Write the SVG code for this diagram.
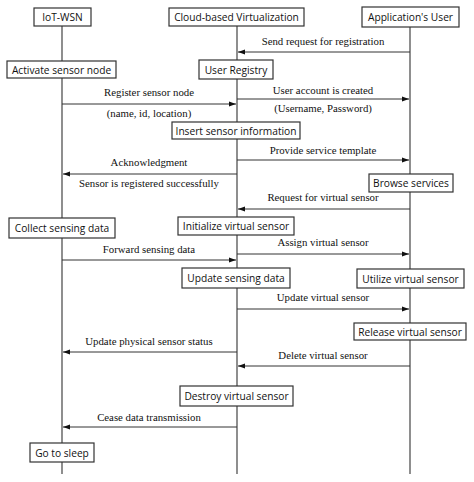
<svg xmlns="http://www.w3.org/2000/svg" width="474" height="482" viewBox="0 0 474 482">
<style>
.box{fill:#fff;stroke:#333;stroke-width:1.2}
.bt{font-family:"Open Sans","DejaVu Sans",sans-serif;font-size:10.2px;fill:#111;text-anchor:middle;dominant-baseline:central}
.lt{font-family:"Liberation Serif","Times New Roman",serif;font-size:10.8px;fill:#111;text-anchor:middle}
.life{stroke:#444;stroke-width:1.2;fill:none}
.msg{stroke:#333;stroke-width:1;fill:none;marker-end:url(#ah)}
</style>
<defs>
<marker id="ah" markerWidth="8" markerHeight="6" refX="7" refY="3" orient="auto" markerUnits="userSpaceOnUse">
<path d="M0,0.5 L7,3 L0,5.5 Z" fill="#111"/>
</marker>
</defs>
<rect width="474" height="482" fill="#fff"/>
<g id="lifelines">
<line class="life" x1="62" y1="26" x2="62" y2="474"/>
<line class="life" x1="237" y1="26" x2="237" y2="474"/>
<line class="life" x1="410" y1="27" x2="410" y2="474"/>
</g>
<g id="connectors">
<line class="msg" x1="410" y1="52" x2="238" y2="52"/>
<text class="lt" x="323" y="45">Send request for registration</text>
<line class="msg" x1="62" y1="104" x2="236" y2="104"/>
<text class="lt" x="149" y="96">Register sensor node</text>
<text class="lt" x="149" y="117">(name, id, location)</text>
<line class="msg" x1="237" y1="99" x2="409" y2="99"/>
<text class="lt" x="323" y="94">User account is created</text>
<text class="lt" x="323" y="112">(Username, Password)</text>
<line class="msg" x1="237" y1="160" x2="409" y2="160"/>
<text class="lt" x="323" y="154">Provide service template</text>
<line class="msg" x1="237" y1="174" x2="63" y2="174"/>
<text class="lt" x="149" y="166">Acknowledgment</text>
<text class="lt" x="149" y="187">Sensor is registered successfully</text>
<line class="msg" x1="410" y1="209" x2="238" y2="209"/>
<text class="lt" x="323" y="201">Request for virtual sensor</text>
<line class="msg" x1="237" y1="254" x2="409" y2="254"/>
<text class="lt" x="323" y="246">Assign virtual sensor</text>
<line class="msg" x1="62" y1="260" x2="236" y2="260"/>
<text class="lt" x="149" y="253">Forward sensing data</text>
<line class="msg" x1="237" y1="309" x2="409" y2="309"/>
<text class="lt" x="323" y="301">Update virtual sensor</text>
<line class="msg" x1="237" y1="352" x2="63" y2="352"/>
<text class="lt" x="149" y="345">Update physical sensor status</text>
<line class="msg" x1="410" y1="366" x2="238" y2="366"/>
<text class="lt" x="323" y="359">Delete virtual sensor</text>
<line class="msg" x1="237" y1="427" x2="63" y2="427"/>
<text class="lt" x="149" y="421">Cease data transmission</text>
</g>
<g id="iot-wsn"><rect class="box" x="34" y="8" width="57" height="18"/><text class="bt" x="62.5" y="17">IoT-WSN</text></g>
<g id="cloud"><rect class="box" x="169" y="8" width="135" height="18"/><text class="bt" x="236.5" y="17">Cloud-based Virtualization</text></g>
<g id="appuser"><rect class="box" x="362" y="7" width="97" height="20"/><text class="bt" x="410.5" y="17">Application's User</text></g>
<g id="activate"><rect class="box" x="7" y="61" width="109" height="17"/><text class="bt" x="61.5" y="69.5">Activate sensor node</text></g>
<g id="registry"><rect class="box" x="199" y="60" width="74" height="19"/><text class="bt" x="236" y="69.5">User Registry</text></g>
<g id="insert"><rect class="box" x="172" y="122" width="128" height="17"/><text class="bt" x="236" y="130.5">Insert sensor information</text></g>
<g id="browse"><rect class="box" x="369" y="174" width="84" height="18"/><text class="bt" x="411" y="183">Browse services</text></g>
<g id="collect"><rect class="box" x="9" y="218" width="106" height="20"/><text class="bt" x="62" y="228">Collect sensing data</text></g>
<g id="init"><rect class="box" x="178" y="217" width="116" height="18"/><text class="bt" x="236" y="226">Initialize virtual sensor</text></g>
<g id="update"><rect class="box" x="182" y="268" width="108" height="20"/><text class="bt" x="236" y="278">Update sensing data</text></g>
<g id="utilize"><rect class="box" x="357" y="269" width="107" height="19"/><text class="bt" x="410.5" y="278.5">Utilize virtual sensor</text></g>
<g id="release"><rect class="box" x="354" y="323" width="112" height="17"/><text class="bt" x="410" y="331.5">Release virtual sensor</text></g>
<g id="destroy"><rect class="box" x="180" y="386" width="113" height="20"/><text class="bt" x="236.5" y="396">Destroy virtual sensor</text></g>
<g id="sleep"><rect class="box" x="30" y="443" width="64" height="19"/><text class="bt" x="62" y="452.5">Go to sleep</text></g>
</svg>
